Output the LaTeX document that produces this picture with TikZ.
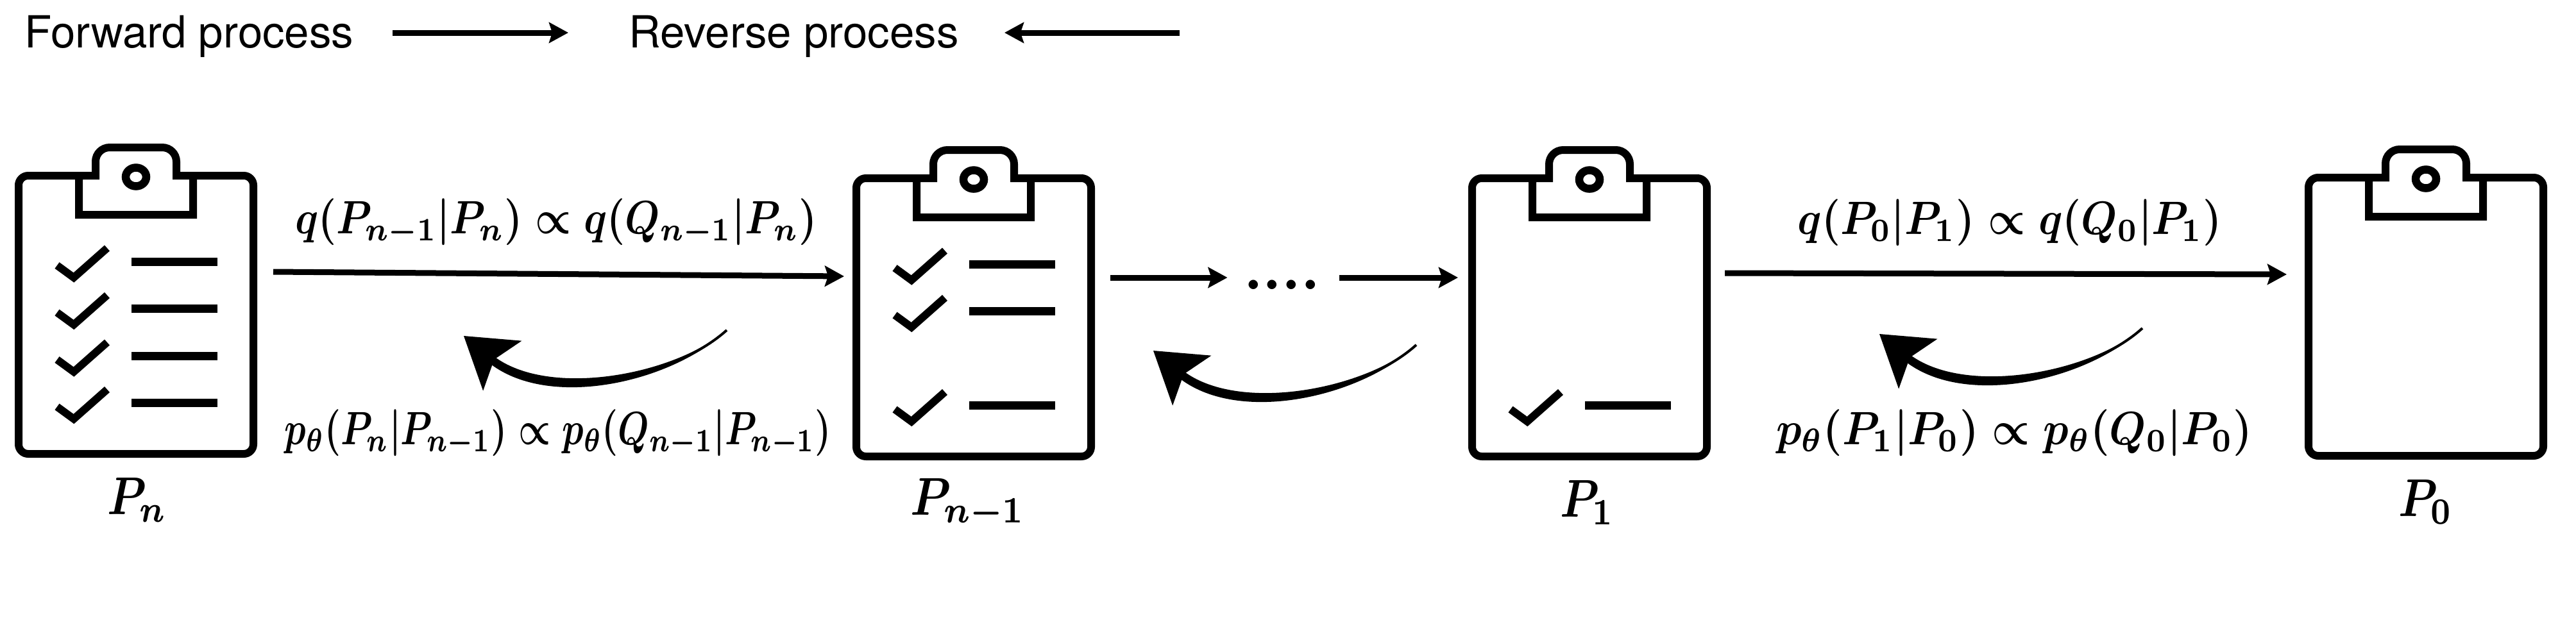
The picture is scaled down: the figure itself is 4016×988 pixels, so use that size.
\documentclass[tikz,border=0pt]{standalone}
\usepackage{fontspec}
\usepackage{amssymb}
\newfontfamily\legendfont{TeX Gyre Heros}
\usetikzlibrary{arrows.meta}
\tikzset{
  x=1pt,y=-1pt,
  board/.style={draw=black,line width=12pt,rounded corners=15pt,minimum width=366pt,minimum height=434pt,inner sep=0pt,fill=white},
  clip part/.style={draw=black,fill=white,line width=12pt,miter limit=10},
  chk/.style={draw=black,line width=12pt,miter limit=10},
  bar/.style={draw=black,line width=13pt},
  fwd/.style={draw=black,line width=9pt,-{Stealth[length=30pt,width=32pt,inset=5pt]}},
  back/.style={draw=black,line width=4pt,-{Stealth[length=76pt,width=98pt,inset=16pt]}},
  lbl/.style={inner sep=0pt,yscale=7.3,font=\boldmath},
  plabel/.style={inner sep=0pt,anchor=base west,yscale=8.3,font=\boldmath},
  legend/.style={inner sep=0pt,anchor=base west,font=\legendfont\fontsize{69}{80}\selectfont},
}
\newcommand\clipboard[3]{%
  \node[board] (#1) at (#2,#3) {};
  \begin{scope}[shift={(#1.north)}]
    \path[clip part] (-89,6) -- (-63,6) [rounded corners=22pt] -- (-63,-38) -- (63,-38) [sharp corners] -- (63,6) -- (89,6) -- (89,67) -- (-89,67) -- cycle;
    \draw[line width=12.5pt] (0,8) ellipse [x radius=16,y radius=14.5];
  \end{scope}}
\newcommand\listrow[2]{%
  \begin{scope}[shift={(#1.north)},yshift={-73.5pt*#2}]
    \draw[chk] (-123,146) -- (-97,165) -- (-45,119);
    \draw[bar] (-7,140) -- (127,140);
  \end{scope}}
\newcommand\backarrow[3]{%
  \begin{scope}[shift={(#2,#3)}]
    \coordinate (#1s) at (1133,515);
    \coordinate (#1e) at (723,524);
    \coordinate (#1u) at (773,558);
    \coordinate (#1l) at (765,568);
    \fill (#1s) .. controls (1050,585) and (860,620) .. (#1u) -- (#1l) .. controls (860,640) and (1050,595) .. (#1s);
    \draw[back] (#1s) .. controls (1050,590) and (860,630) .. (#1e);
  \end{scope}}
\begin{document}
\begin{tikzpicture}
\path[use as bounding box,fill=white] (0,0) rectangle (4016,988);
% legend
\node[legend] (tf) at (38,74) {Forward process};
\node[legend] (tr) at (980,74) {Reverse process};
\coordinate (la) at (612,51); \coordinate (lb) at (886,51);
\coordinate (lc) at (1839,51); \coordinate (ld) at (1566,51);
\draw[fwd] (la) -- (lb);
\draw[fwd] (lc) -- (ld);
% boards
\clipboard{Pn}{212}{491}
\clipboard{Pm}{1518}{495}
\clipboard{Pa}{2478}{495}
\clipboard{Pz}{3782}{494}
\listrow{Pn}{0}\listrow{Pn}{1}\listrow{Pn}{2}\listrow{Pn}{3}
\listrow{Pm}{0}\listrow{Pm}{1}\listrow{Pm}{3}
\listrow{Pa}{3}
% board labels
\node[plabel,xscale=6.9] (ln) at (166,802) {$P_n$};
\node[plabel,xscale=7.15] (lm) at (1418,803) {$P_{n-1}$};
\node[plabel,xscale=6.9] (l1) at (2431,806) {$P_1$};
\node[plabel,xscale=6.9] (l0) at (3738,805) {$P_0$};
% forward arrows
\node[inner sep=0pt,scale=9.3,anchor=base,font=\bfseries] (dots) at (1998.5,451) {....};
\draw[fwd] ([shift={(25,-67)}]Pn.east) -- ([shift={(-13,-64)}]Pm.west);
\draw[fwd] ([shift={(24,-62)}]Pm.east) -- ([shift={(-85,-18)}]dots.base);
\draw[fwd] ([shift={(89,-18)}]dots.base) -- ([shift={(-16,-62)}]Pa.west);
\draw[fwd] ([shift={(22,-69)}]Pa.east) -- ([shift={(-28,-66)}]Pz.west);
% reverse arrows
\backarrow{ba}{0}{0}
\backarrow{bb}{1075}{23}
\backarrow{bc}{2207}{-3}
% formula labels
\node[lbl,xscale=6.27] (q1) at (867,347) {$q(P_{n-1}|P_n)\propto q(Q_{n-1}|P_n)$};
\node[lbl,xscale=5.6] (p1) at (870,676) {$p_\theta(P_n|P_{n-1})\propto p_\theta(Q_{n-1}|P_{n-1})$};
\node[lbl,xscale=6.5] (q2) at (3133,347) {$q(P_0|P_1)\propto q(Q_0|P_1)$};
\node[lbl,xscale=6.6] (p2) at (3140,675) {$p_\theta(P_1|P_0)\propto p_\theta(Q_0|P_0)$};
\end{tikzpicture}
\end{document}
